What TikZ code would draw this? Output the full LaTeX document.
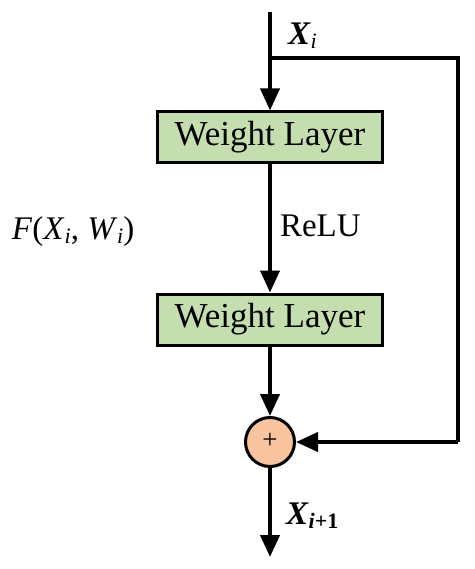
\documentclass[tikz,border=0pt]{standalone}
\usepackage{fontspec}
\setmainfont{Liberation Serif}
\usetikzlibrary{arrows.meta}
\definecolor{boxgreen}{RGB}{197,222,176}
\definecolor{sumorange}{RGB}{248,196,160}
\newcommand{\sub}[1]{\raisebox{-0.12em}{\fontsize{22pt}{24pt}\selectfont #1}}
\begin{document}
\begin{tikzpicture}[x=1pt,y=-1pt,
  line width=4pt,
  arr/.style={-{Triangle[length=22pt,width=19pt]}},
  layer/.style={draw,line width=3pt,fill=boxgreen,minimum width=225pt,minimum height=51pt,inner sep=0pt,font=\fontsize{35pt}{37pt}\selectfont},
  sumnode/.style={circle,draw,line width=3pt,fill=sumorange,minimum size=49pt,inner sep=0pt,font=\fontsize{27pt}{29pt}\selectfont},
  lbl/.style={inner sep=0pt,font=\fontsize{33pt}{35pt}\selectfont}]
\useasboundingbox (0,0) rectangle (474,569);
\coordinate (top) at (270,12);
\coordinate (split) at (270,58);
\coordinate (c1) at (458,58);
\coordinate (c2) at (458,442);
\coordinate (bottom) at (270,557);
\node[layer] (w1) at (270,137.5) {Weight Layer};
\node[layer] (w2) at (270,319.5) {Weight Layer};
\node[sumnode] (sum) at (270,442) {\raisebox{0.05em}{+}};
\draw[arr] (top) -- (w1);
\draw[line join=miter] (split) -- (c1) -- (c2);
\draw[arr] (c2) -- (sum);
\draw[arr] (w1) -- (w2);
\draw[arr] (w2) -- (sum);
\draw[arr] (sum) -- (bottom);
\node[lbl,anchor=west] (xi) at (286,36) {\textbf{\textit{X}}\sub{\textit{i}}};
\node[lbl,anchor=west] (relu) at (278,226) {ReLU};
\node[lbl,anchor=west] (xi1) at (284,516) {\textbf{\textit{X}}\sub{\textbf{\textit{i}+1}}};
\node[lbl,anchor=west] (f) at (10,232) {\textit{F}(\textit{X}\sub{\textit{i}}, \textit{W}\sub{\textit{i}})};
\end{tikzpicture}
\end{document}
